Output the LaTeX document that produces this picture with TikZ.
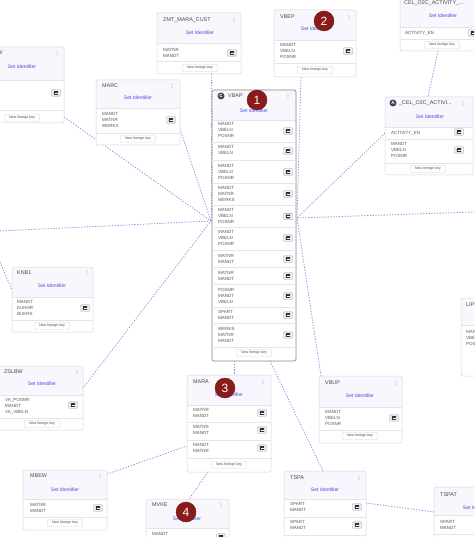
\documentclass[tikz,border=0pt]{standalone}
\usepackage{fontspec}
\newfontfamily\uif{Liberation Sans}
\definecolor{hdrc}{HTML}{F7F7FD}
\definecolor{framec}{HTML}{D6D6DC}
\definecolor{sepcol}{HTML}{E4E4EA}
\definecolor{linkc}{HTML}{7E93E3}
\definecolor{sidc}{HTML}{4B4BDB}
\definecolor{ttlc}{HTML}{4A4A4A}
\definecolor{fldc}{HTML}{5A5A5A}
\definecolor{badgec}{HTML}{8A1B1B}
\definecolor{keyedge}{HTML}{9A9AA2}
\definecolor{keyfill}{HTML}{F2F2F5}
\definecolor{keyglyph}{HTML}{303038}
\pgfdeclarelayer{bg}
\pgfsetlayers{bg,main}
\tikzset{
  tblframe/.style={draw=framec, line width=0.5pt, rounded corners=2pt, inner sep=0pt, outer sep=0pt},
  ttlst/.style={anchor=west, inner sep=0pt, text=ttlc, font=\uif\fontsize{5.4}{6}\selectfont},
  sidst/.style={inner sep=0pt, text=sidc, font=\uif\fontsize{5}{6}\selectfont},
  fldst/.style={anchor=west, inner sep=0pt, text=fldc, font=\uif\fontsize{4.5}{5}\selectfont},
  btnst/.style={draw=framec, fill=white, rounded corners=1pt, line width=0.45pt, minimum width=35pt, minimum height=7pt, inner sep=0pt, text=ttlc, font=\uif\fontsize{3.6}{4}\selectfont},
  badgest/.style={circle, fill=badgec, draw=badgec!80!black, line width=0.4pt, minimum size=20pt, inner sep=0pt, text=white, font=\uif\fontsize{12}{12}\selectfont},
  iconst/.style={circle, minimum size=7pt, inner sep=0pt, text=white, font=\uif\bfseries\fontsize{4.5}{5}\selectfont},
  link/.style={draw=linkc, line width=0.75pt, dash pattern=on 1.3pt off 1.5pt},
  keyic/.pic={
    \draw[draw=keyedge, fill=keyfill, line width=0.4pt, rounded corners=0.8pt] (-4.5,-3.2) rectangle (4.5,3.2);
    \fill[keyglyph, rounded corners=0.3pt] (-2.2,-1.9) rectangle (2.2,1.9);
    \draw[white, line width=0.35pt] (-1.5,0) -- (1.5,0);
  }
}
\newcommand{\rzTbl}[6]{%
  \begin{scope}
    \clip[rounded corners=2pt] (#2,#3) rectangle (#4,#5);
    \fill[white] (#2,#3) rectangle (#4,#5);
    \fill[hdrc] (#2,#3) rectangle (#4,#6);
    \draw[sepcol, line width=0.4pt] (#2,#6) -- (#4,#6);
  \end{scope}
  \node[tblframe, anchor=north west, minimum width={(#4-#2)*1pt}, minimum height={(#5-#3)*1pt}] (#1) at (#2,#3) {};
}
\newcommand{\rzSep}[3]{\draw[sepcol, line width=0.4pt] (#1,#3) -- (#2,#3);}
\newcommand{\rzTtl}[3]{\node[ttlst] at (#1,#2) {#3};}
\newcommand{\rzSid}[2]{\node[sidst] at (#1,#2) {Set Identifier};}
\newcommand{\rzBtn}[2]{\node[btnst] at (#1,#2) {New foreign key};}
\newcommand{\rzKey}[2]{\pic at (#1,#2) {keyic};}
\newcommand{\rzKebab}[2]{\fill[ttlc!80] ({#1},{#2-1.7}) circle (0.42pt) ({#1},{#2}) circle (0.42pt) ({#1},{#2+1.7}) circle (0.42pt);}
\newcommand{\rzRows}[3]{\foreach \t [count=\i from 0] in {#3} {\node[fldst] at ({#1},{#2+6.2*\i}) {\t};}}
\begin{document}
\begin{tikzpicture}[x=1pt,y=-1pt]
\useasboundingbox (0,0) rectangle (474,537);
\begin{pgfonlayer}{bg}
  \fill[white] (0,0) rectangle (474,537);
\end{pgfonlayer}
\clip (0,0) rectangle (474,537);

% ---------- partial box, top left
\rzTbl{lbox}{-10}{47}{64}{123}{80}
\node[ttlst, anchor=east] at (3,53) {W};
\rzKebab{57}{53}
\rzSid{22}{67}
\rzKey{56}{93}
\rzSep{-10}{64}{110}
\rzBtn{22}{118}

% ---------- ZMT_MARA_CUST
\rzTbl{zmt}{157}{13}{241}{74}{43}
\rzTtl{163}{20}{ZMT\_MARA\_CUST}
\rzKebab{234}{20}
\rzSid{200}{33}
\rzRows{163}{50}{MATNR,MANDT}
\rzKey{232}{53}
\rzSep{157}{241}{61}
\rzBtn{200}{68}

% ---------- VBEP
\rzTbl{vbep}{274}{10}{356}{77}{40}
\rzTtl{280}{17}{VBEP}
\rzKebab{349}{17}
\rzSid{315}{29}
\rzRows{280}{45}{MANDT,VBELN,POSNR}
\rzKey{348}{51}
\rzSep{274}{356}{63}
\rzBtn{315}{70}
\node[badgest] (b2) at (324,21) {2};

% ---------- CEL_O2C_ACTIVITY_ (top right)
\rzTbl{celtop}{400}{-6}{490}{51}{27}
\rzTtl{404}{3}{CEL\_O2C\_ACTIVITY\_...}
\rzSid{443}{16}
\rzRows{405}{33}{ACTIVITY\_EN}
\rzKey{473}{33}
\rzSep{400}{490}{39}
\rzBtn{442}{45}

% ---------- _CEL_O2C_ACTIVI...
\rzTbl{cel}{385}{97}{473}{175}{127}
\node[iconst, fill=ttlc!90!blue] at (393,103) {A};
\rzTtl{399}{103}{\_CEL\_O2C\_ACTIVI...}
\rzKebab{463}{103}
\rzSid{430}{117}
\rzRows{391}{133}{ACTIVITY\_EN}
\rzKey{459}{132}
\rzSep{385}{473}{139}
\rzRows{391}{144}{MANDT,VBELN,POSNR}
\rzKey{459}{150}
\rzSep{385}{473}{163}
\rzBtn{428}{169}

% ---------- MARC
\rzTbl{marc}{96}{80}{180}{145}{108}
\rzTtl{102}{86}{MARC}
\rzKebab{172}{86}
\rzSid{138}{98}
\rzRows{102}{114}{MANDT,MATNR,WERKS}
\rzKey{171}{120}
\rzSep{96}{180}{133}
\rzBtn{138}{139}

% ---------- VBAP (main)
\rzTbl{vbap}{212}{90}{296}{361}{120}
\draw[draw=black!40, line width=0.8pt, rounded corners=2pt] (vbap.north west) rectangle (vbap.south east);
\node[iconst, fill=ttlc] at (221,96) {C};
\rzTtl{228}{96}{VBAP}
\rzKebab{288}{96}
\rzSid{254}{111}
\rzRows{218}{124}{MANDT,VBELN,POSNR}   \rzKey{288}{131}   \rzSep{212}{296}{142}
\rzRows{218}{147}{MANDT,VBELN}         \rzKey{288}{151}   \rzSep{212}{296}{160}
\rzRows{218}{165.5}{MANDT,VBELN,POSNR} \rzKey{288}{172}   \rzSep{212}{296}{183}
\rzRows{218}{188}{MANDT,MATNR,WERKS}   \rzKey{288}{194}   \rzSep{212}{296}{205}
\rzRows{218}{210}{MANDT,VBELN,POSNR}   \rzKey{288}{216.5} \rzSep{212}{296}{227}
\rzRows{218}{231.5}{MANDT,VBELN,POSNR} \rzKey{288}{238}   \rzSep{212}{296}{250}
\rzRows{218}{256}{MATNR,MANDT}         \rzKey{288}{259}   \rzSep{212}{296}{267}
\rzRows{218}{273}{MATNR,MANDT}         \rzKey{288}{276}   \rzSep{212}{296}{284}
\rzRows{218}{290}{POSNR,MANDT,VBELN}   \rzKey{288}{296}   \rzSep{212}{296}{307}
\rzRows{218}{312}{SPART,MANDT}         \rzKey{288}{315}   \rzSep{212}{296}{323}
\rzRows{218}{329}{WERKS,MATNR,MANDT}   \rzKey{288}{335}   \rzSep{212}{296}{347}
\rzBtn{254}{353}
\node[badgest] (b1) at (257,100) {1};

% ---------- KNB1
\rzTbl{knb1}{12}{267}{93}{332}{297}
\rzTtl{17}{273}{KNB1}
\rzKebab{87}{273}
\rzSid{52}{286}
\rzRows{17}{302}{MANDT,KUNNR,BUKRS}
\rzKey{85}{308}
\rzSep{12}{93}{320}
\rzBtn{52}{326}

% ---------- ZSLBW
\rzTbl{zslbw}{-4}{366}{83}{430}{395}
\rzTtl{4}{372}{ZSLBW}
\rzKebab{77}{372}
\rzSid{42}{384}
\rzRows{5}{400}{VA\_POSNR,MANDT,VA\_VBELN}
\rzKey{73}{405}
\rzSep{-4}{83}{418}
\rzBtn{42}{424}

% ---------- MARA
\rzTbl{mara}{187}{375}{271}{472}{405}
\rzTtl{193}{382}{MARA}
\rzKebab{263}{382}
\rzSid{229}{395}
\rzRows{193}{410}{MATNR,MANDT} \rzKey{262}{413} \rzSep{187}{271}{422}
\rzRows{193}{427}{MATNR,MANDT} \rzKey{262}{430} \rzSep{187}{271}{440}
\rzRows{193}{445}{MANDT,MATNR} \rzKey{262}{448} \rzSep{187}{271}{458}
\rzBtn{229}{465}
\node[badgest] (b3) at (225,388) {3};

% ---------- VBUP
\rzTbl{vbup}{319}{376}{402}{443}{407}
\rzTtl{325}{383}{VBUP}
\rzKebab{396}{383}
\rzSid{360}{396}
\rzRows{325}{412}{MANDT,VBELN,POSNR}
\rzKey{394}{418}
\rzSep{319}{402}{430}
\rzBtn{360}{436}

% ---------- TSPA
\rzTbl{tspa}{284}{471}{366}{548}{499}
\rzTtl{290}{478}{TSPA}
\rzKebab{359}{478}
\rzSid{325}{490}
\rzRows{290}{504}{SPART,MANDT} \rzKey{357}{507} \rzSep{284}{366}{517}
\rzRows{290}{522}{SPART,MANDT} \rzKey{357}{525} \rzSep{284}{366}{535}

% ---------- TSPAT
\rzTbl{tspat}{434}{487}{520}{548}{515}
\rzTtl{440}{495}{TSPAT}
\rzSid{477}{508}
\rzRows{440}{522}{SPART,MANDT}
\rzSep{434}{520}{534}

% ---------- MBEW
\rzTbl{mbew}{23}{470}{107}{530}{499}
\rzTtl{30}{476}{MBEW}
\rzKebab{100}{476}
\rzSid{65}{490}
\rzRows{30}{505}{MATNR,MANDT}
\rzKey{98}{508}
\rzSep{23}{107}{517}
\rzBtn{65}{523}

% ---------- MVKE
\rzTbl{mvke}{146}{499}{229}{548}{528}
\rzTtl{152}{505}{MVKE}
\rzKebab{221}{505}
\rzSid{187}{519}
\rzRows{152}{534}{MANDT,MATNR}
\rzKey{221}{537}
\node[badgest] (b4) at (186,512) {4};

% ---------- LIPS (partial, right edge)
\rzTbl{lips}{461}{298}{520}{376}{325}
\rzTtl{466}{305}{LIPS}
\rzRows{466}{332}{MANDT,VBELN,POSNR}

% ---------- connector end points
\coordinate (vL) at (211,221);
\coordinate (vR) at (297,218);
\coordinate (vB1) at (234,361);
\coordinate (vB2) at (270,361);
\coordinate (lboxR) at (64,117);
\coordinate (marcR) at (180,129);
\coordinate (zmtB) at (211,74);
\coordinate (vbepB) at (301,77);
\coordinate (celL) at (385,133);
\coordinate (celT) at (428,97);
\coordinate (celtopB) at (438,51);
\coordinate (zslbwR) at (83,388);
\coordinate (vbupT) at (321,376);
\coordinate (maraT) at (234,375);
\coordinate (maraL) at (187,446);
\coordinate (maraB) at (208,472);
\coordinate (mbewR) at (107,474);
\coordinate (mvkeT) at (189,499);
\coordinate (tspaT) at (323,471);
\coordinate (tspaR) at (366,503);
\coordinate (tspatL) at (434,512);
\coordinate (knbL) at (12,290);
\coordinate (freeL) at (0,231);
\coordinate (freeR) at (474,212);
\coordinate (freeK) at (0,262);

\begin{pgfonlayer}{bg}
  \draw[link] (lboxR) -- (vL);
  \draw[link] (marcR) -- (vL);
  \draw[link] (freeL) -- (vL);
  \draw[link] (zslbwR) -- (vL);
  \draw[link] (zmtB) -- (vL);
  \draw[link] (vbepB) -- (vR);
  \draw[link] (celL) -- (vR);
  \draw[link] (vR) -- (freeR);
  \draw[link] (vbupT) -- (vR);
  \draw[link] (celtopB) -- (celT);
  \draw[link] (vB1) -- (maraT);
  \draw[link] (vB2) -- (tspaT);
  \draw[link] (mbewR) -- (maraL);
  \draw[link] (maraB) -- (mvkeT);
  \draw[link] (tspaR) -- (tspatL);
  \draw[link] (freeK) -- (knbL);
\end{pgfonlayer}
\end{tikzpicture}
\end{document}
